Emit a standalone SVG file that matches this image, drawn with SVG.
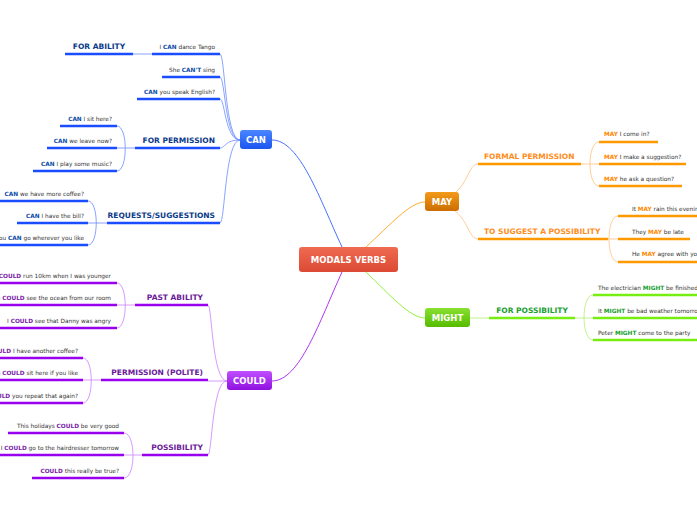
<svg xmlns="http://www.w3.org/2000/svg" width="697" height="520" viewBox="0 0 697 520">
<defs>
<linearGradient id="gr" x1="0" y1="0" x2="0" y2="1"><stop offset="0" stop-color="#ee6a50"/><stop offset="1" stop-color="#dc4a34"/></linearGradient>
<linearGradient id="gb" x1="0" y1="0" x2="0" y2="1"><stop offset="0" stop-color="#4a86ff"/><stop offset="1" stop-color="#1a55f0"/></linearGradient>
<linearGradient id="go" x1="0" y1="0" x2="0" y2="1"><stop offset="0" stop-color="#f39a1a"/><stop offset="1" stop-color="#cc6e00"/></linearGradient>
<linearGradient id="gg" x1="0" y1="0" x2="0" y2="1"><stop offset="0" stop-color="#88e030"/><stop offset="1" stop-color="#55bb00"/></linearGradient>
<linearGradient id="gp" x1="0" y1="0" x2="0" y2="1"><stop offset="0" stop-color="#c050ff"/><stop offset="1" stop-color="#9010e0"/></linearGradient>
</defs>
<style>
text{font-family:"DejaVu Sans","Liberation Sans",sans-serif}
.leaf{font-size:5.8px;fill:#333}
.sub{font-size:7.5px;font-weight:bold}
.main{font-size:8.5px;font-weight:bold;fill:#fff}
.c{stroke:#1a4dff}.o{stroke:#ff9900}.g{stroke:#77ee11}.p{stroke:#9900ee}
.ln{stroke-width:2.5;fill:none}
.th{stroke-width:0.8;fill:none}
.kb{fill:#0a4aa8;font-weight:bold}.ko{fill:#ff8800;font-weight:bold}.kg{fill:#18a030;font-weight:bold}.kp{fill:#7a1aa8;font-weight:bold}
</style>
<g id="connectors">
<path class="th c" d="M342,247 C320,200 300,140 272,140" stroke-width="1.3"/>
<path class="th o" d="M366,247 C390,225 410,202 425,202" stroke-width="1.3"/>
<path class="th g" d="M366,272 C390,295 410,318 425,318" stroke-width="1.3"/>
<path class="th p" d="M342,272 C320,320 300,381 272,381" stroke-width="1.3"/>
<g stroke="#6a8cff" class="th">
<path d="M240,140 C225,140 225,54 220,54"/><path d="M240,140 C225,140 225,77 220,77"/><path d="M240,140 C225,140 225,99 220,99"/><path d="M240,140 C225,140 225,148 220,148"/><path d="M240,140 C225,140 225,223 220,223"/>
<path d="M133,54 H152"/>
<path d="M135,148 H117 M117,126 C128,126 128,171 117,171"/>
<path d="M107,223 H88 M88,201 C99,201 99,245 88,245"/>
</g>
<g stroke="#ffc080" class="th">
<path d="M425,202 C470,202 465,164 478,164"/><path d="M425,202 C470,202 465,239 478,239"/>
<path d="M581,164 H599 M599,142 C587,142 587,186 599,186"/>
<path d="M608,239 H618 M618,216 C606,216 606,262 618,262"/>
</g>
<g stroke="#b0f070" class="th">
<path d="M470,318 H489"/><path d="M575,318 H593 M593,295 C581,295 581,340 593,340"/>
</g>
<g stroke="#cc80ff" class="th">
<path d="M227,381 C212,381 212,305 208,305"/><path d="M227,381 H208"/><path d="M227,381 C212,381 212,455 208,455"/>
<path d="M135,305 H117 M117,283 C128,283 128,328 117,328"/>
<path d="M101,380 H83 M83,358 C94,358 94,403 83,403"/>
<path d="M142,455 H124 M124,433 C136,433 136,478 124,478"/>
</g>
</g>
<g id="center"><rect x="299" y="247" width="99" height="25" rx="3" fill="url(#gr)"/><text class="main" x="348.5" y="262.5" text-anchor="middle">MODALS VERBS</text></g>
<g id="can"><rect x="240" y="130" width="32" height="19" rx="3" fill="url(#gb)"/><text class="main" x="256" y="142.5" text-anchor="middle">CAN</text>
<g class="ln c"><path d="M65,54H133M152,54H220M162,77H220M137,99H220M135,148H220M60,126H117M47,148H117M33,171H117M107,223H220M0,201H88M17,223H88M0,245H88"/></g>
<g fill="#0a3a8a" class="sub"><text x="99" y="49" text-anchor="middle">FOR ABILITY</text><text x="215" y="143" text-anchor="end">FOR PERMISSION</text><text x="215" y="218" text-anchor="end">REQUESTS/SUGGESTIONS</text></g>
<g class="leaf" text-anchor="end">
<text x="215" y="49">I <tspan class="kb">CAN</tspan> dance Tango</text>
<text x="215" y="72">She <tspan class="kb">CAN'T</tspan> sing</text>
<text x="215" y="94"><tspan class="kb">CAN</tspan> you speak English?</text>
<text x="112" y="121"><tspan class="kb">CAN</tspan> I sit here?</text>
<text x="112" y="143"><tspan class="kb">CAN</tspan> we leave now?</text>
<text x="112" y="166"><tspan class="kb">CAN</tspan> I play some music?</text>
<text x="84" y="196"><tspan class="kb">CAN</tspan> we have more coffee?</text>
<text x="84" y="218"><tspan class="kb">CAN</tspan> I have the bill?</text>
<text x="84" y="240">You <tspan class="kb">CAN</tspan> go wherever you like</text>
</g></g>
<g id="may"><rect x="425" y="192" width="34" height="19" rx="3" fill="url(#go)"/><text class="main" x="442" y="204.5" text-anchor="middle">MAY</text>
<g class="ln o"><path d="M478,164H581M599,142H658M599,164H686M599,186H682M478,239H608M618,216H697M618,239H690M618,262H697"/></g>
<g fill="#ff8c1a" class="sub"><text x="484" y="159">FORMAL PERMISSION</text><text x="484" y="234">TO SUGGEST A POSSIBILITY</text></g>
<g class="leaf">
<text x="604" y="136"><tspan class="ko">MAY</tspan> I come in?</text>
<text x="604" y="159"><tspan class="ko">MAY</tspan> I make a suggestion?</text>
<text x="604" y="181"><tspan class="ko">MAY</tspan> he ask a question?</text>
<text x="632" y="211">It <tspan class="ko">MAY</tspan> rain this evening</text>
<text x="632" y="234">They <tspan class="ko">MAY</tspan> be late</text>
<text x="632" y="256">He <tspan class="ko">MAY</tspan> agree with you</text>
</g></g>
<g id="might"><rect x="425" y="308" width="45" height="19" rx="3" fill="url(#gg)"/><text class="main" x="447.5" y="320.5" text-anchor="middle">MIGHT</text>
<g class="ln g"><path d="M489,318H575M593,295H697M593,318H697M593,340H697"/></g>
<text class="sub" fill="#18a030" x="532" y="313" text-anchor="middle">FOR POSSIBILITY</text>
<g class="leaf">
<text x="598" y="290">The electrician <tspan class="kg">MIGHT</tspan> be finished soon</text>
<text x="598" y="313">It <tspan class="kg">MIGHT</tspan> be bad weather tomorrow</text>
<text x="598" y="335">Peter <tspan class="kg">MIGHT</tspan> come to the party</text>
</g></g>
<g id="could"><rect x="227" y="371" width="45" height="19" rx="3" fill="url(#gp)"/><text class="main" x="249.5" y="383.5" text-anchor="middle">COULD</text>
<g class="ln p"><path d="M135,305H208M0,283H117M0,305H117M0,328H117M101,380H208M0,358H83M0,380H83M0,403H83M142,455H208M8,433H124M0,455H124M32,478H124"/></g>
<g fill="#6a1a98" class="sub" text-anchor="end"><text x="203" y="300">PAST ABILITY</text><text x="203" y="375">PERMISSION (POLITE)</text><text x="203" y="450">POSSIBILITY</text></g>
<g class="leaf" text-anchor="end">
<text x="111" y="278">I <tspan class="kp">COULD</tspan> run 10km when I was younger</text>
<text x="111" y="300">We <tspan class="kp">COULD</tspan> see the ocean from our room</text>
<text x="111" y="323">I <tspan class="kp">COULD</tspan> see that Danny was angry</text>
<text x="78" y="353"><tspan class="kp">COULD</tspan> I have another coffee?</text>
<text x="78" y="375">You <tspan class="kp">COULD</tspan> sit here if you like</text>
<text x="78" y="398"><tspan class="kp">COULD</tspan> you repeat that again?</text>
<text x="119" y="428">This holidays <tspan class="kp">COULD</tspan> be very good</text>
<text x="119" y="450">I <tspan class="kp">COULD</tspan> go to the hairdresser tomorrow</text>
<text x="119" y="473"><tspan class="kp">COULD</tspan> this really be true?</text>
</g></g>
</svg>
